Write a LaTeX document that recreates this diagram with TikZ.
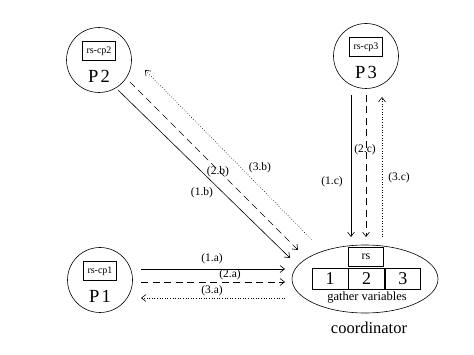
\documentclass[tikz,border=0pt]{standalone}
\usepackage{fontspec}
\setmainfont{Liberation Serif}
\usetikzlibrary{arrows.meta}
\usetikzlibrary{shapes.geometric}
\usetikzlibrary{positioning}

\begin{document}
\begin{tikzpicture}[x=1pt, y=-1pt, line width=0.6pt,
        proc/.style={draw,circle,minimum size=65pt,inner sep=0pt},
        cpbox/.style={draw,font=\fontsize{10}{11}\selectfont,minimum width=33pt,minimum height=19pt,inner sep=2pt},
        pname/.style={font=\fontsize{18.5}{20}\selectfont,inner sep=0pt},
        cell/.style={draw,font=\fontsize{18}{19}\selectfont,minimum width=35.7pt,minimum height=21pt,inner sep=0pt},
        msg/.style={font=\fontsize{11.5}{12}\selectfont,inner sep=1pt},
        send/.style={-{Straight Barb[length=4.5pt,width=7pt]}},
        gat/.style={send,dash pattern=on 7pt off 4.5pt},
        bcast/.style={send,dotted}]
      \useasboundingbox (0,0) rectangle (474,355);
      % the three processes, each with its local copy of rs
      \foreach \i/\px/\py in {1/100/280, 2/99/60, 3/366/56}{
        \node[proc] (p\i) at (\px,\py) {};
        \node[cpbox] (cp\i) at (\px,{\py-9}) {rs-cp\i};
        \node[pname] (pl\i) at (\px,{\py+16}) {P\hspace{2pt}\i};
      }
      % coordinator with rs and the gathered variables
      \node[draw,ellipse,minimum width=146pt,minimum height=68pt] (co) at (365,279) {};
      \node[draw,font=\fontsize{12}{13}\selectfont,minimum width=35pt,minimum height=19pt,inner sep=0pt] (rs) at (366,256.5) {rs};
      \node[cell] (g2) at (366.5,278.5) {2};
      \node[cell,left=0pt of g2] (g1) {1};
      \node[cell,right=0pt of g2] (g3) {3};
      \node[font=\fontsize{12.5}{13}\selectfont,inner sep=0pt] (gv) at (367,297.5) {gather variables};
      \node[font=\fontsize{16.5}{18}\selectfont,inner sep=0pt] (cl) at (369,328) {coordinator};
      % message end points
      \coordinate (a1s) at (141,269); \coordinate (a1e) at (285,269);
      \coordinate (a2s) at (141,282); \coordinate (a2e) at (285,282);
      \coordinate (a3s) at (285,298); \coordinate (a3e) at (141,298);
      \coordinate (b1s) at (118,90);  \coordinate (b1e) at (290,258);
      \coordinate (b2s) at (130,82);  \coordinate (b2e) at (298,250);
      \coordinate (b3s) at (312,240); \coordinate (b3e) at (145,70);
      \coordinate (c1s) at (351,95);  \coordinate (c1e) at (351,237);
      \coordinate (c2s) at (366,95);  \coordinate (c2e) at (366,237);
      \coordinate (c3s) at (382,237); \coordinate (c3e) at (382,97);
      % step 1 solid, step 2 dashed, step 3 dotted
      \draw[send]  (a1s) -- (a1e);
      \draw[gat]   (a2s) -- (a2e);
      \draw[bcast] (a3s) -- (a3e);
      \draw[send]  (b1s) -- (b1e);
      \draw[gat]   (b2s) -- (b2e);
      \draw[bcast] (b3s) -- (b3e);
      \draw[send]  (c1s) -- (c1e);
      \draw[gat]   (c2s) -- (c2e);
      \draw[bcast] (c3s) -- (c3e);
      \node[msg] (la1) at (212,259) {(1.a)};
      \node[msg] (la2) at (230,275) {(2.a)};
      \node[msg] (la3) at (212,291) {(3.a)};
      \node[msg] (lb1) at (202,193) {(1.b)};
      \node[msg] (lb2) at (218,172) {(2.b)};
      \node[msg] (lb3) at (260,168) {(3.b)};
      \node[msg] (lc1) at (332,182) {(1.c)};
      \node[msg] (lc2) at (365,150) {(2.c)};
      \node[msg] (lc3) at (399,178) {(3.c)};
    \end{tikzpicture}
\end{document}
